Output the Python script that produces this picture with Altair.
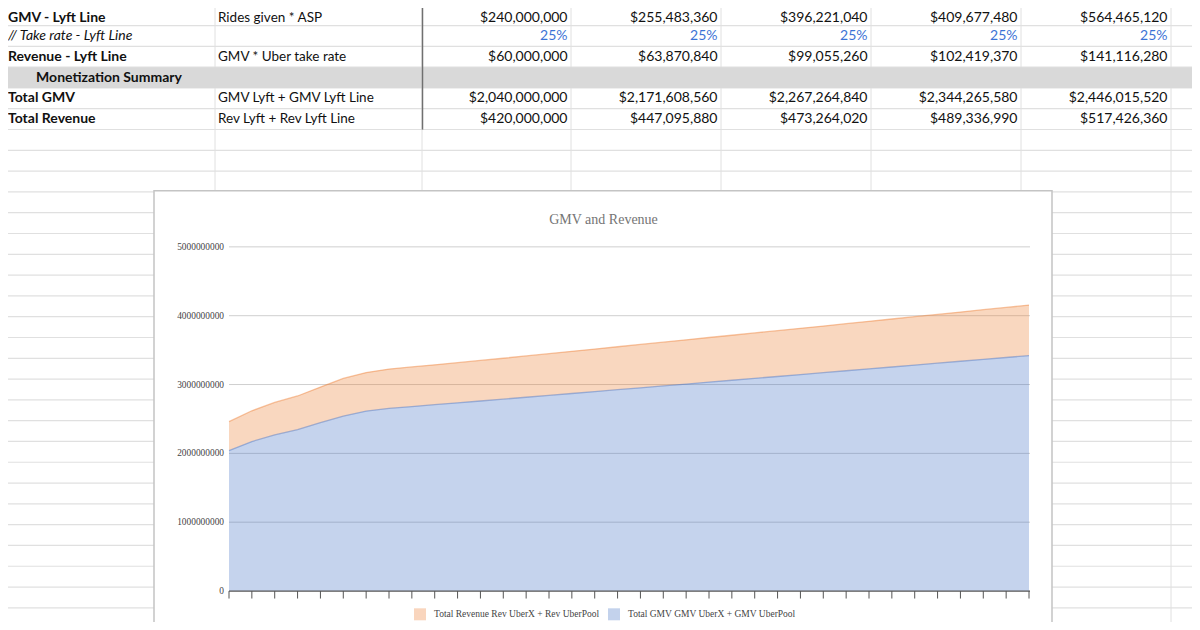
import altair as alt
import pandas as pd

# ---------------- data ----------------
ROW_LABELS = ["GMV - Lyft Line", "// Take rate - Lyft Line", "Revenue - Lyft Line",
              "Monetization Summary", "Total GMV", "Total Revenue"]
ROW_FORMULAS = ["Rides given * ASP", "", "GMV * Uber take rate", "",
                "GMV Lyft + GMV Lyft Line", "Rev Lyft + Rev Lyft Line"]
GMV_LYFT_LINE = ["$240,000,000", "$255,483,360", "$396,221,040", "$409,677,480", "$564,465,120"]
TAKE_RATE_LYFT_LINE = ["25%", "25%", "25%", "25%", "25%"]
REV_LYFT_LINE = ["$60,000,000", "$63,870,840", "$99,055,260", "$102,419,370", "$141,116,280"]
TOTAL_GMV_ROW = ["$2,040,000,000", "$2,171,608,560", "$2,267,264,840", "$2,344,265,580", "$2,446,015,520"]
TOTAL_REV_ROW = ["$420,000,000", "$447,095,880", "$473,264,020", "$489,336,990", "$517,426,360"]

CHART_TITLE = "GMV and Revenue"
SERIES_REV = "Total Revenue Rev UberX + Rev UberPool"
SERIES_GMV = "Total GMV GMV UberX + GMV UberPool"

PERIODS = list(range(1, 37))
TOTAL_GMV = [2040000000, 2171608560, 2267264840, 2344265580, 2446015520,
             2540e6, 2615e6, 2653e6,
             2680e6, 2707e6, 2734e6, 2761e6, 2788e6, 2815e6, 2842e6,
             2870e6, 2897e6, 2925e6, 2952e6, 2980e6, 3007e6, 3035e6, 3062e6, 3090e6, 3117e6, 3145e6,
             3172e6, 3200e6, 3228e6, 3255e6, 3283e6, 3310e6, 3338e6, 3366e6, 3393e6, 3421e6]
TOTAL_REV = [420000000, 447095880, 473264020, 489336990, 517426360,
             548e6, 558e6, 572e6,
             576e6, 580e6, 584e6, 589e6, 594e6,
             600e6, 606e6, 612e6, 618e6, 624e6, 630e6, 636e6, 642e6, 648e6, 654e6, 660e6,
             666e6, 672e6, 678e6, 684e6, 690e6, 697e6, 703e6, 709e6, 715e6, 721e6, 727e6, 733e6]
Y_TICKS = [0, 1000000000, 2000000000, 3000000000, 4000000000, 5000000000]

# ---------------- layout (reference pixel space -> chart space) ----------------
W, H = 1184, 614


def X(px):
    return px - 6


def Y(py):
    return 0.67 + 0.975 * py


ROW_H = 21.33
FIRST_LINE = 17.3
COL_EDGES = [213, 420, 569, 719, 869, 1019, 1169]
TEXT_FONT = "Lato"
SERIF = "Liberation Serif"


def row_center(r):
    # keep the first (partly scrolled) row fully inside the drawing
    return max(Y(FIRST_LINE + ROW_H * r - ROW_H / 2), 9.6)


one = pd.DataFrame({"a": [0]})

# spreadsheet grid
hl = pd.DataFrame({"y": [Y(FIRST_LINE + ROW_H * k) for k in range(30) if FIRST_LINE + ROW_H * k < 640]})
vl = pd.DataFrame({"x": [X(c) for c in COL_EDGES]})

vlines = alt.Chart(vl).mark_rule(color="#e0e0e0", strokeWidth=1).encode(
    x=alt.X("x:Q", scale=None), y=alt.value(0), y2=alt.value(H))
hlines = alt.Chart(hl).mark_rule(color="#e0e0e0", strokeWidth=1.2).encode(
    y=alt.Y("y:Q", scale=None), x=alt.value(0), x2=alt.value(W))
band = alt.Chart(one).mark_rect(color="#d9d9d9").encode(
    x=alt.value(0), x2=alt.value(W), y=alt.value(Y(60.2)), y2=alt.value(Y(81.3)))
darkline = alt.Chart(one).mark_rule(color="#707070", strokeWidth=1.5).encode(
    x=alt.value(X(420.5)), y=alt.value(0), y2=alt.value(Y(124)))

# table texts
bold_rows = [0, 2, 4, 5]
bold_df = pd.DataFrame({"x": [X(6)] * 4, "y": [row_center(r) for r in bold_rows],
                        "t": [ROW_LABELS[r] for r in bold_rows]})
bold_txt = alt.Chart(bold_df).mark_text(align="left", baseline="middle", font=TEXT_FONT, fontSize=14,
                                        fontWeight="bold", color="#111").encode(
    x=alt.X("x:Q", scale=None), y=alt.Y("y:Q", scale=None), text="t:N")

ital_df = pd.DataFrame({"x": [X(6)], "y": [row_center(1)], "t": [ROW_LABELS[1]]})
ital_txt = alt.Chart(ital_df).mark_text(align="left", baseline="middle", font=TEXT_FONT, fontSize=14,
                                        fontStyle="italic", color="#111").encode(
    x=alt.X("x:Q", scale=None), y=alt.Y("y:Q", scale=None), text="t:N")

sum_df = pd.DataFrame({"x": [X(107)], "y": [row_center(3)], "t": [ROW_LABELS[3]]})
sum_txt = alt.Chart(sum_df).mark_text(align="center", baseline="middle", font=TEXT_FONT, fontSize=14,
                                      fontWeight="bold", color="#111").encode(
    x=alt.X("x:Q", scale=None), y=alt.Y("y:Q", scale=None), text="t:N")

f_rows = [r for r in range(6) if ROW_FORMULAS[r]]
form_df = pd.DataFrame({"x": [X(216)] * len(f_rows), "y": [row_center(r) for r in f_rows],
                        "t": [ROW_FORMULAS[r] for r in f_rows]})
form_txt = alt.Chart(form_df).mark_text(align="left", baseline="middle", font=TEXT_FONT, fontSize=13.5,
                                        color="#111").encode(
    x=alt.X("x:Q", scale=None), y=alt.Y("y:Q", scale=None), text="t:N")

num_rows = {0: GMV_LYFT_LINE, 2: REV_LYFT_LINE, 4: TOTAL_GMV_ROW, 5: TOTAL_REV_ROW}
nx, ny, nt = [], [], []
for r, vals in num_rows.items():
    for i, v in enumerate(vals):
        nx.append(X(COL_EDGES[2 + i] - 3.5))
        ny.append(row_center(r))
        nt.append(v)
num_txt = alt.Chart(pd.DataFrame({"x": nx, "y": ny, "t": nt})).mark_text(
    align="right", baseline="middle", font=TEXT_FONT, fontSize=14, color="#111").encode(
    x=alt.X("x:Q", scale=None), y=alt.Y("y:Q", scale=None), text="t:N")

pct_df = pd.DataFrame({"x": [X(COL_EDGES[2 + i] - 3.5) for i in range(5)],
                       "y": [row_center(1)] * 5, "t": TAKE_RATE_LYFT_LINE})
pct_txt = alt.Chart(pct_df).mark_text(align="right", baseline="middle", font=TEXT_FONT, fontSize=14,
                                      color="#3b73d6").encode(
    x=alt.X("x:Q", scale=None), y=alt.Y("y:Q", scale=None), text="t:N")

# chart box
box = alt.Chart(one).mark_rect(fill="white", stroke="#c4c4c4", strokeWidth=1.5).encode(
    x=alt.value(X(152)), x2=alt.value(X(1050)), y=alt.value(Y(186.7)), y2=alt.value(H + 30))

title = alt.Chart(one).mark_text(align="center", baseline="middle", font=SERIF, fontSize=14,
                                 color="#757575").encode(
    x=alt.value(X(601.5)), y=alt.value(Y(217)), text=alt.value(CHART_TITLE))

# ---------------- area chart ----------------
xscale = alt.Scale(domain=[1, 36], range=[X(227), X(1027)], nice=False, zero=False)
yscale = alt.Scale(domain=[0, 5000000000], range=[Y(597.3), Y(244.3)], nice=False)

area_df = pd.DataFrame({
    "Period": PERIODS + PERIODS,
    "Amount": TOTAL_GMV + TOTAL_REV,
    "Series": [SERIES_GMV] * 36 + [SERIES_REV] * 36,
    "StackOrder": [0] * 36 + [1] * 36,
})

tick_df = pd.DataFrame({"v": Y_TICKS})

grid = alt.Chart(tick_df[tick_df.v > 0]).mark_rule(color="#cfcfcf", strokeWidth=1).encode(
    y=alt.Y("v:Q", scale=yscale, axis=None), x=alt.value(X(227)), x2=alt.value(X(1028)))

area = alt.Chart(area_df).mark_area(
    opacity=0.31, line={"opacity": 0.45, "strokeWidth": 1.3}).encode(
    x=alt.X("Period:Q", scale=xscale, axis=None),
    y=alt.Y("Amount:Q", stack="zero", scale=yscale, axis=None),
    color=alt.Color("Series:N",
                    scale=alt.Scale(domain=[SERIES_REV, SERIES_GMV], range=["#ed7d31", "#4472c4"]),
                    legend=alt.Legend(orient="none", legendX=X(412), legendY=Y(615), direction="horizontal",
                                      title=None, symbolType="square", symbolSize=144, symbolOpacity=0.32,
                                      symbolStrokeWidth=0, labelFont=SERIF, labelFontSize=9.5,
                                      labelColor="#444", labelLimit=400, columnPadding=8, labelOffset=8,
                                      padding=0)),
    order=alt.Order("StackOrder:Q"),
)

baseline = alt.Chart(tick_df[tick_df.v == 0]).mark_rule(color="#555", strokeWidth=1.3).encode(
    y=alt.Y("v:Q", scale=yscale, axis=None), x=alt.value(X(227)), x2=alt.value(X(1028)))

xticks = alt.Chart(pd.DataFrame({"Period": PERIODS})).mark_rule(color="#555", strokeWidth=1).encode(
    x=alt.X("Period:Q", scale=xscale, axis=None), y=alt.value(Y(597.3)), y2=alt.value(Y(605)))

ylabels = alt.Chart(tick_df).mark_text(align="right", baseline="middle", font=SERIF, fontSize=9.4,
                                       color="#444").encode(
    y=alt.Y("v:Q", scale=yscale, axis=None), x=alt.value(X(222)), text=alt.Text("v:Q", format="d"))

plot = alt.layer(grid, area, baseline, xticks, ylabels)

chart = alt.layer(
    vlines, hlines, band, darkline,
    bold_txt, ital_txt, sum_txt, form_txt, num_txt, pct_txt,
    box, title, plot,
).resolve_scale(x="independent", y="independent").properties(
    width=W, height=H, autosize=alt.AutoSizeParams(type="none"), padding=0
).configure_view(strokeWidth=0)

chart.save("out.html", embed_options={"renderer": "svg", "actions": False})
